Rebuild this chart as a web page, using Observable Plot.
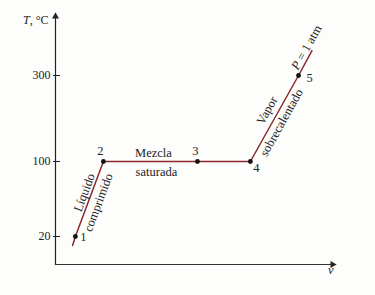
<!DOCTYPE html>
<html>
<head>
<meta charset="utf-8">
<script src="https://cdn.jsdelivr.net/npm/d3@7"></script>
<script src="https://cdn.jsdelivr.net/npm/@observablehq/plot@0.6"></script>
<style>
  html, body { margin: 0; padding: 0; background: #fdfdfc; }
  #chart { width: 375px; height: 295px; }
</style>
</head>
<body>
<div id="chart"></div>
<script>
// State points of water heated at P = 1 atm (schematic T-v diagram)
const stateLabels = ["1", "2", "3", "4", "5"];
const stateV = [7.1, 17.1, 50.7, 69.6, 86.8];      // schematic specific volume
const stateT = [20, 100, 100, 100, 300];           // °C
// process line (extends slightly beyond states 1 and 5)
const lineV = [6.1, 7.1, 17.1, 50.7, 69.6, 86.8, 91.6];
const lineT = [10.4, 20, 100, 100, 100, 300, 358];
// y tick labels
const yTicks = [20, 100, 300];

const states = stateLabels.map((s, i) => ({s, v: stateV[i], T: stateT[i]}));
const path = lineV.map((v, i) => ({v, T: lineT[i]}));

const font = "Liberation Serif, Times New Roman, serif";
const ink = "#222";
const red = "#8b2a2a";
const fs = 12.5;

// label offsets (screen px) per state number
const numOffsets = {"1": [8, 0], "2": [-3, -11], "3": [-2, -11], "4": [6, 6], "5": [11, 2]};

const mid = (a, b) => ({v: (states[a].v + states[b].v) / 2, T: (states[a].T + states[b].T) / 2});

const marks = [
  Plot.frame({anchor: "left", stroke: ink, strokeWidth: 1.2}),
  Plot.frame({anchor: "bottom", stroke: "#333", strokeWidth: 1.2}),
  Plot.dot([0], {frameAnchor: "top-left", symbol: "triangle", r: 2.6, fill: ink, dy: 3}),
  Plot.dot([0], {frameAnchor: "bottom-right", symbol: "triangle", r: 2.6, fill: ink, rotate: 90, dx: -3}),
  Plot.axisY({ticks: yTicks, label: null, tickSize: 7, dx: 5, tickPadding: 3, fontSize: 12, fontFamily: font, color: ink, tickFormat: d => String(d)}),
  Plot.line(path, {x: "v", y: "T", stroke: red, strokeWidth: 1.5}),
  Plot.dot(states, {x: "v", y: "T", r: 2.4, fill: "#111"}),
  ...stateLabels.map(s => Plot.text(states.filter(d => d.s === s), {
    x: "v", y: "T", text: "s", dx: numOffsets[s][0], dy: numOffsets[s][1],
    fontSize: fs, fontFamily: font, fill: ink
  })),
  Plot.text([mid(0, 1)], {x: "v", y: "T", text: () => "Líquido", rotate: -69.5, dx: -5, dy: -6.5, fontSize: fs, fontFamily: font, fill: ink}),
  Plot.text([mid(0, 1)], {x: "v", y: "T", text: () => "comprimido", rotate: -69.5, dx: 9, dy: 3.5, fontSize: fs, fontFamily: font, fill: ink}),
  Plot.text([mid(1, 2)], {x: "v", y: "T", text: () => "Mezcla", dx: 3, dy: -9, fontSize: fs, fontFamily: font, fill: ink}),
  Plot.text([mid(1, 2)], {x: "v", y: "T", text: () => "saturada", dx: 6, dy: 10, fontSize: fs, fontFamily: font, fill: ink}),
  Plot.text([mid(3, 4)], {x: "v", y: "T", text: () => "Vapor", rotate: -60.8, dx: -7.5, dy: -8, fontSize: fs, fontFamily: font, fill: ink}),
  Plot.text([mid(3, 4)], {x: "v", y: "T", text: () => "sobrecalentado", rotate: -60.8, dx: 7, dy: 4, fontSize: fs, fontFamily: font, fill: ink}),
  Plot.text([states[4]], {x: "v", y: "T", text: () => "P = 1 atm", rotate: -60.8, dx: 8, dy: -28, fontSize: fs, fontFamily: font, fill: ink}),
  Plot.text(["T, °C"], {frameAnchor: "top-left", text: d => d, textAnchor: "end", dx: -7, dy: 2, fontSize: 12, fontFamily: font, fill: ink}),
  Plot.text(["v"], {frameAnchor: "bottom-right", text: d => d, dx: -2, dy: 9, fontSize: fs, fontFamily: font, fontStyle: "italic", fill: ink})
];

const chart = Plot.plot({
  width: 375,
  height: 295,
  marginLeft: 55,
  marginRight: 40,
  marginTop: 13,
  marginBottom: 31,
  style: {background: "transparent", fontFamily: font, overflow: "visible"},
  x: {type: "linear", domain: [0, 100], axis: null},
  y: {type: "linear", domain: [20, 100, 300], range: [236, 161, 75], axis: null},
  marks
});

// italic variable symbols
chart.querySelectorAll("text").forEach(t => {
  if (t.textContent === "P = 1 atm") t.innerHTML = '<tspan font-style="italic">P</tspan> = 1 atm';
  if (t.textContent === "T, °C") t.innerHTML = '<tspan font-style="italic">T</tspan>, °C';
});

document.getElementById("chart").appendChild(chart);
</script>
</body>
</html>
